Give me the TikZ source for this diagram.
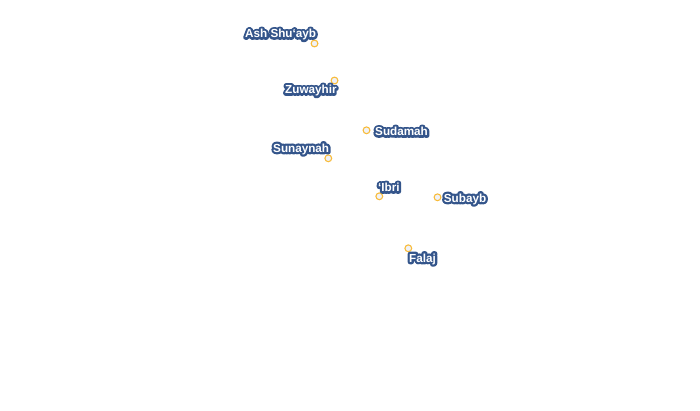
\documentclass[tikz,border=0pt]{standalone}
\usepackage{fontspec}
\setmainfont{Liberation Sans}
\definecolor{ring}{HTML}{F8BC3C}
\definecolor{dotfill}{HTML}{F0F2F7}
\newcommand{\halotext}[1]{\leavevmode\rlap{\special{pdf:code q 1 Tr 4.6 w 1 j 1 J 0.204 0.333 0.545 RG}#1\special{pdf:code 0 Tr Q}}\textcolor{white}{#1}}
\tikzset{
  place/.style={circle,draw=ring,fill=dotfill,line width=1.1pt,minimum size=6.8pt,inner sep=0pt},
  placelabel/.style={inner sep=0pt,anchor=base west,font=\bfseries\fontsize{11.7}{14}\selectfont}
}
\begin{document}
\begin{tikzpicture}[x=1pt,y=-1pt]
\useasboundingbox (0,0) rectangle (700,410);
\node[place] (p1) at (314.5,43.5) {};
\node[place] (p2) at (334.5,80.5) {};
\node[place] (p3) at (366.5,130.3) {};
\node[place] (p4) at (328.3,158.3) {};
\node[place] (p5) at (379.3,196.3) {};
\node[place] (p6) at (437.5,197.3) {};
\node[place] (p7) at (408.3,248.3) {};
\node[placelabel] (l1) at (245,37.5) {\halotext{Ash Shu`ayb}};
\node[placelabel] (l2) at (285,93.5) {\halotext{Zuwayhir}};
\node[placelabel] (l3) at (375,135.5) {\halotext{Sudamah}};
\node[placelabel] (l4) at (273,152) {\halotext{Sunaynah}};
\node[placelabel] (l5) at (378,191.5) {\halotext{`Ibri}};
\node[placelabel] (l6) at (443.7,202) {\halotext{Subayb}};
\node[placelabel] (l7) at (409,262) {\halotext{Falaj}};
\end{tikzpicture}
\end{document}
